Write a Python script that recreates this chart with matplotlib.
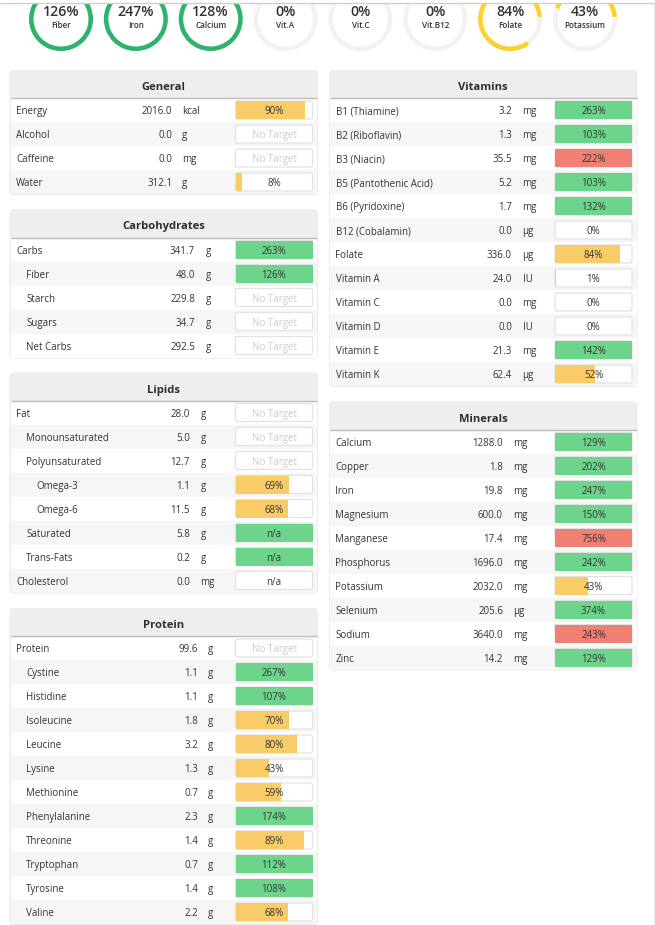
import matplotlib
matplotlib.use("Agg")
import matplotlib.pyplot as plt
from matplotlib.patches import Rectangle, FancyBboxPatch, Wedge

plt.rcParams['font.family'] = ['Open Sans', 'DejaVu Sans']

# ---- data ----
ring_labels = ["Fiber", "Iron", "Calcium", "Vit.A", "Vit.C", "Vit.B12", "Folate", "Potassium"]
ring_pcts = [126, 247, 128, 0, 0, 0, 84, 43]

general_names = ["Energy", "Alcohol", "Caffeine", "Water"]
general_amounts = ["2016.0", "0.0", "0.0", "312.1"]
general_units = ["kcal", "g", "mg", "g"]
general_pcts = [90, None, None, 8]
general_status = ["low", "none", "none", "low"]
general_levels = [0, 0, 0, 0]

carb_names = ["Carbs", "Fiber", "Starch", "Sugars", "Net Carbs"]
carb_amounts = ["341.7", "48.0", "229.8", "34.7", "292.5"]
carb_units = ["g", "g", "g", "g", "g"]
carb_pcts = [263, 126, None, None, None]
carb_status = ["good", "good", "none", "none", "none"]
carb_levels = [0, 1, 1, 1, 1]

lipid_names = ["Fat", "Monounsaturated", "Polyunsaturated", "Omega-3", "Omega-6",
               "Saturated", "Trans-Fats", "Cholesterol"]
lipid_amounts = ["28.0", "5.0", "12.7", "1.1", "11.5", "5.8", "0.2", "0.0"]
lipid_units = ["g", "g", "g", "g", "g", "g", "g", "mg"]
lipid_pcts = [None, None, None, 69, 68, None, None, None]
lipid_status = ["none", "none", "none", "low", "low", "na_good", "na_good", "na"]
lipid_levels = [0, 1, 1, 2, 2, 1, 1, 0]

protein_names = ["Protein", "Cystine", "Histidine", "Isoleucine", "Leucine", "Lysine",
                 "Methionine", "Phenylalanine", "Threonine", "Tryptophan", "Tyrosine", "Valine"]
protein_amounts = ["99.6", "1.1", "1.1", "1.8", "3.2", "1.3", "0.7", "2.3", "1.4", "0.7", "1.4", "2.2"]
protein_units = ["g"] * 12
protein_pcts = [None, 267, 107, 70, 80, 43, 59, 174, 89, 112, 108, 68]
protein_status = ["none", "good", "good", "low", "low", "low", "low", "good", "low", "good", "good", "low"]
protein_levels = [0] + [1] * 11

vitamin_names = ["B1 (Thiamine)", "B2 (Riboflavin)", "B3 (Niacin)", "B5 (Pantothenic Acid)",
                 "B6 (Pyridoxine)", "B12 (Cobalamin)", "Folate", "Vitamin A", "Vitamin C",
                 "Vitamin D", "Vitamin E", "Vitamin K"]
vitamin_amounts = ["3.2", "1.3", "35.5", "5.2", "1.7", "0.0", "336.0", "24.0", "0.0", "0.0", "21.3", "62.4"]
vitamin_units = ["mg", "mg", "mg", "mg", "mg", "µg", "µg", "IU", "mg", "IU", "mg", "µg"]
vitamin_pcts = [263, 103, 222, 103, 132, 0, 84, 1, 0, 0, 142, 52]
vitamin_status = ["good", "good", "over", "good", "good", "low", "low", "low", "low", "low", "good", "low"]
vitamin_levels = [0] * 12

mineral_names = ["Calcium", "Copper", "Iron", "Magnesium", "Manganese", "Phosphorus",
                 "Potassium", "Selenium", "Sodium", "Zinc"]
mineral_amounts = ["1288.0", "1.8", "19.8", "600.0", "17.4", "1696.0", "2032.0", "205.6", "3640.0", "14.2"]
mineral_units = ["mg", "mg", "mg", "mg", "mg", "mg", "mg", "µg", "mg", "mg"]
mineral_pcts = [129, 202, 247, 150, 756, 242, 43, 374, 243, 129]
mineral_status = ["good", "good", "good", "good", "over", "good", "low", "good", "over", "good"]
mineral_levels = [0] * 10

# ---- style ----
W, H = 655, 925
TXT = "#333333"
FILL = {"good": "#6dd48c", "na_good": "#6dd48c", "low": "#f9cc68", "over": "#f08073"}
FS = 7.0

fig = plt.figure(figsize=(W / 100, H / 100), dpi=100, facecolor="white")
ax = fig.add_axes([0, 0, 1, 1])
ax.set_xlim(0, W)
ax.set_ylim(H, 0)
ax.axis("off")


def rounded(x, y, w, h, r, **kw):
    p = FancyBboxPatch((x + r, y + r), w - 2 * r, h - 2 * r,
                       boxstyle=f"round,pad={r},rounding_size={r}", **kw)
    ax.add_patch(p)
    return p


def rings():
    ax.plot([0, W], [2.5, 2.5], color="#cfcfcf", lw=1, zorder=5, solid_capstyle="butt")
    ax.plot([653.5, 653.5], [3, H], color="#eeeeee", lw=1, zorder=0)
    clip = Rectangle((0, 3), W, 60, transform=ax.transData)
    for i, (lab, pct) in enumerate(zip(ring_labels, ring_pcts)):
        cx, cy = 61 + 74.85 * i, 19
        base = Wedge((cx, cy), 32, 0, 360, width=4.5, fc="#f2f2f2", ec="none")
        ax.add_patch(base)
        base.set_clip_path(clip)
        if pct >= 100:
            arc = Wedge((cx, cy), 32, 0, 360, width=4.5, fc="#2fb26a", ec="none")
        elif pct > 0:
            end = -4  # arc finishes just above 3 o'clock
            arc = Wedge((cx, cy), 32, end - pct * 3.6, end, width=4.5, fc="#fdd02f", ec="none")
        else:
            arc = None
        if arc is not None:
            ax.add_patch(arc)
            arc.set_clip_path(clip)
        ax.text(cx, 12.5, f"{pct}%", ha="center", va="center", fontsize=10.2,
                fontweight="semibold", color=TXT)
        ax.text(cx, 25.3, lab, ha="center", va="center", fontsize=5.9,
                fontweight="semibold", color=TXT)


def panel(x0, top, title, names, amounts, units, pcts, status, levels, val_right, unit_left):
    n = len(names)
    wid = 308.5
    head = 28
    rh = 24
    bottom = top + head + n * rh + 0.5
    rounded(x0 - 0.5, top, wid, bottom - top + 0.7, 4, fc="#ececec", ec="none", zorder=1)
    rounded(x0, top, wid - 1, head + 3, 4, fc="#eeeeee", ec="none", zorder=1.5)
    ax.add_patch(Rectangle((x0 + 0.5, top + head), wid - 2, n * rh, fc="white", ec="none", zorder=2))
    ax.plot([x0 + 0.5, x0 + wid - 1.5], [top + head, top + head], color="#bdbdbd", lw=1, zorder=4,
            solid_capstyle="butt")
    ax.text(x0 + wid / 2 - 0.5, top + 20, title, ha="center", va="baseline", fontsize=8.1,
            fontweight="bold", color="#2f2f2f", zorder=6)
    bar_x = x0 + 225.5
    bar_w = 77
    for i in range(n):
        y = top + head + i * rh
        base_y = y + 16.2
        if i % 2 == 1:
            ax.add_patch(Rectangle((x0 + 0.5, y), wid - 2, rh, fc="#f6f6f6", ec="none", zorder=2.5))
        ax.text(x0 + 6 + 10 * levels[i], base_y, names[i], ha="left", va="baseline", fontsize=FS,
                color=TXT, zorder=6)
        ax.text(val_right, base_y, amounts[i], ha="right", va="baseline", fontsize=FS, color=TXT, zorder=6)
        ax.text(unit_left, base_y, units[i], ha="left", va="baseline", fontsize=FS, color=TXT, zorder=6)
        by, bh = y + 3, 18
        st, pct = status[i], pcts[i]
        rounded(bar_x, by, bar_w, bh, 2, fc="white", ec="#e3e3e3", lw=0.9, zorder=3)
        if st in FILL:
            frac = 1.0 if pct is None else min(pct, 100) / 100
            if frac > 0:
                fp = Rectangle((bar_x, by), bar_w * frac, bh, fc=FILL[st], ec="none", zorder=3.5)
                ax.add_patch(fp)
        if st == "none":
            label, col = "No Target", "#cccccc"
        elif pct is None:
            label, col = "n/a", TXT
        else:
            label, col = f"{pct}%", TXT
        ax.text(bar_x + bar_w / 2, base_y, label, ha="center", va="baseline", fontsize=FS,
                color=col, zorder=6)


rings()
panel(10, 70, "General", general_names, general_amounts, general_units, general_pcts,
      general_status, general_levels, 172.3, 182.3)
panel(10, 209.5, "Carbohydrates", carb_names, carb_amounts, carb_units, carb_pcts,
      carb_status, carb_levels, 195, 205.5)
panel(10, 372.5, "Lipids", lipid_names, lipid_amounts, lipid_units, lipid_pcts,
      lipid_status, lipid_levels, 190, 200.5)
panel(10, 608, "Protein", protein_names, protein_amounts, protein_units, protein_pcts,
      protein_status, protein_levels, 198, 208)
panel(329.5, 70, "Vitamins", vitamin_names, vitamin_amounts, vitamin_units, vitamin_pcts,
      vitamin_status, vitamin_levels, 512, 522.5)
panel(329.5, 401.5, "Minerals", mineral_names, mineral_amounts, mineral_units, mineral_pcts,
      mineral_status, mineral_levels, 503, 513.5)

fig.savefig("out.png", dpi=100, facecolor="white")
